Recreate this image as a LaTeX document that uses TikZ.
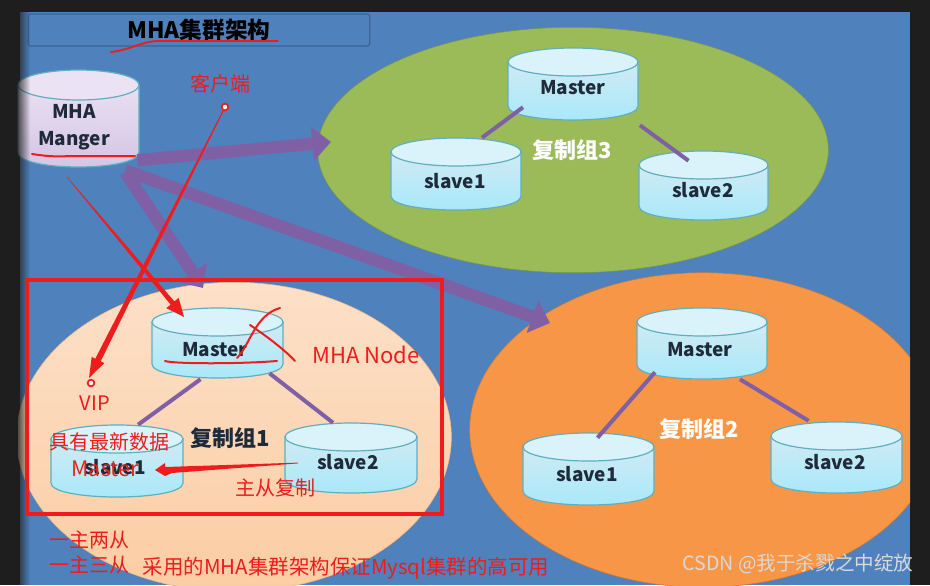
\documentclass[tikz,border=0pt]{standalone}
\usepackage{fontspec}
\setmainfont{Noto Sans CJK SC}
\usetikzlibrary{shapes.geometric,arrows.meta,fadings}
\definecolor{bgblue}{HTML}{4F81BD}
\definecolor{framec}{HTML}{1E1E1E}
\definecolor{titleedge}{HTML}{3A6593}
\definecolor{grn}{HTML}{9BBB59}
\definecolor{org}{HTML}{F79646}
\definecolor{peachhi}{HTML}{FDE0C8}
\definecolor{peachlo}{HTML}{FBCDA3}
\definecolor{purp}{HTML}{7F60A4}
\definecolor{redmk}{HTML}{EE1C1C}
\definecolor{cyltop}{HTML}{DAF3FA}
\definecolor{cylhi}{HTML}{CFEBF4}
\definecolor{cyllo}{HTML}{A6E8FA}
\definecolor{cyledge}{HTML}{5FAFC0}
\definecolor{mtop}{HTML}{EBE2F4}
\definecolor{mhi}{HTML}{EADFF2}
\definecolor{mlo}{HTML}{D3C4E4}
\definecolor{inkdark}{HTML}{1F2A3A}
\tikzset{
  groupell/.style={ellipse,inner sep=0pt},
  bigarrow/.style={purp,line width=9.2pt,-{Triangle[length=14pt,width=25pt]}},
  linkline/.style={purp,line width=3pt},
  redtxt/.style={text=redmk,inner sep=0pt,font=\fontsize{15}{18}\selectfont},
  cyltxt/.style={text=inkdark,font=\fontsize{14.2}{20}\selectfont\bfseries,align=center},
  grptxt/.style={inner sep=0pt,font=\fontsize{16.5}{18}\selectfont\bfseries},
  penline/.style={draw=redmk,line cap=round,line join=round,line width=1.5pt},
}
\newcommand{\cylbox}[9]{%
  \pgfmathsetmacro{\cxx}{(#2+#4)/2}
  \pgfmathsetmacro{\cyy}{(#3+#5)/2}
  \pgfmathsetmacro{\wid}{#4-#2}
  \pgfmathsetmacro{\hei}{#5-#3}
  \pgfmathsetmacro{\ya}{#3+#6}
  \pgfmathsetmacro{\yb}{#5-#6}
  \pgfmathsetmacro{\yc}{#5+#6/3}
  \pgfmathsetmacro{\rx}{(#4-#2)/2}
  \path[shade,top color=#8,bottom color=#9,draw=cyledge,line width=.9pt]
    (#2,\ya) -- (#2,\yb) .. controls (#2,\yc) and (#4,\yc) .. (#4,\yb) -- (#4,\ya) -- cycle;
  \filldraw[draw=cyledge,fill=#7,line width=.9pt] (\cxx,\ya) ellipse [x radius=\rx,y radius=#6];
  \node[inner sep=0pt,minimum width=\wid*0.75pt,minimum height=\hei*0.75pt] (#1) at (\cxx,\cyy) {};
}
\begin{document}
\begin{tikzpicture}[x=0.75pt,y=-0.75pt]
\useasboundingbox (0,0) rectangle (930,585);
\fill[framec] (0,0) rectangle (930,585);
\fill[bgblue] (20,12) rectangle (910,585);
\begin{scope}
\clip (18,12) rectangle (910,585);
\node[groupell,fill=grn,draw=grn!80!black,minimum width=383pt,minimum height=184pt] (g3) at (573,150) {};
\node[groupell,fill=org,draw=org!80!black,minimum width=350pt,minimum height=236pt] (g2) at (703,430) {};
\node[groupell,top color=peachhi,bottom color=peachlo,draw=org!70!white,minimum width=326pt,minimum height=232pt] (g1) at (234,437) {};
\end{scope}
\node[draw=titleedge,line width=.9pt,rounded corners=1.5pt,inner sep=0pt,minimum width=256pt,minimum height=24pt] (title) at (199,30) {};
\node[inner sep=0pt,font=\fontsize{17}{18}\selectfont\bfseries,text=black] (titletxt) at (199,30) {MHA集群架构};
\draw[penline,line width=1.4pt] (111,52) .. controls (130,50) and (140,42) .. (157,41) -- (278,41);
\cylbox{mha}{18}{70}{139}{167}{15}{mtop}{mhi}{mlo}
\node[cyltxt] (mhatxt) at (74,127) {MHA\\Manger};
\cylbox{m3}{508}{48}{638}{120}{14}{cyltop}{cylhi}{cyllo}
\node[cyltxt] (m3t) at (573,88) {Master};
\cylbox{s31}{391}{138}{521}{210}{14}{cyltop}{cylhi}{cyllo}
\node[cyltxt] (s31t) at (455,181) {slave1};
\cylbox{s32}{639}{151}{768}{220}{14}{cyltop}{cylhi}{cyllo}
\node[cyltxt] (s32t) at (703,190) {slave2};
\cylbox{m1}{152}{308}{283}{378}{14}{cyltop}{cylhi}{cyllo}
\node[cyltxt] (m1t) at (215,350) {Master};
\cylbox{s11}{51}{425}{183}{497}{14}{cyltop}{cylhi}{cyllo}
\node[cyltxt] (s11t) at (115,467) {slave1};
\cylbox{s12}{285}{423}{417}{493}{14}{cyltop}{cylhi}{cyllo}
\node[cyltxt] (s12t) at (348,462) {slave2};
\cylbox{m2}{637}{308}{767}{379}{14}{cyltop}{cylhi}{cyllo}
\node[cyltxt] (m2t) at (700,350) {Master};
\cylbox{s21}{523}{433}{654}{505}{14}{cyltop}{cylhi}{cyllo}
\node[cyltxt] (s21t) at (587,474) {slave1};
\cylbox{s22}{771}{422}{902}{493}{14}{cyltop}{cylhi}{cyllo}
\node[cyltxt] (s22t) at (835,462) {slave2};
\fill[framec,path fading=east] (14,12) rectangle (30,585);
\fill[framec] (0,0) rectangle (16,585);
\draw[linkline] ([shift={(-50,-13)}]m3.south) -- ([shift={(26,0)}]s31.north);
\draw[linkline] ([shift={(67,5)}]m3.south) -- ([shift={(-15,10)}]s32.north);
\draw[linkline] ([shift={(-17,1)}]m1.south) -- ([shift={(21,0)}]s11.north);
\draw[linkline] ([shift={(52,-5)}]m1.south) -- ([shift={(-18,0)}]s12.north);
\draw[linkline] ([shift={(-47,-7)}]m2.south) -- ([shift={(9,5)}]s21.north);
\draw[linkline] ([shift={(38,0)}]m2.south) -- ([shift={(-28,-1)}]s22.north);
\coordinate (tipa) at (331,142);
\coordinate (tipb) at (203,288);
\coordinate (tipc) at (550,323);
\draw[bigarrow] ([shift={(-2,-7)}]mha.south east) -- (tipa);
\draw[bigarrow] ([shift={(-14,5)}]mha.south east) -- (tipb);
\draw[bigarrow] ([shift={(-14,3)}]mha.south east) -- (tipc);
\node[grptxt,text=inkdark] (l1) at (230,438) {复制组1};
\node[grptxt,text=white] (l2) at (699,429) {复制组2};
\node[grptxt,text=white] (l3) at (572,150) {复制组3};
\draw[redmk,line width=2.3pt] (27,280) rectangle (442,514);
\fill[redmk] (67,176.7) -- (174.4,301.4) -- (178.7,297.9) -- (184,317) -- (166.3,308.1) -- (170.6,304.6) -- (67,177.3) -- cycle;
\fill[redmk] (225.4,107.2) -- (100.7,361.3) -- (104.3,363.1) -- (89,378) -- (91.7,356.9) -- (95.3,358.7) -- (224.6,106.8) -- cycle;
\fill[redmk] (298,462.6) -- (165,467) -- (165,463) -- (155,470) -- (165,476) -- (172,473) -- (298,463.4) -- cycle;
\node[circle,fill=white,draw=redmk,line width=1.3pt,minimum size=5pt,inner sep=0pt] (client) at (225,107) {};
\node[circle,fill=white,draw=redmk,line width=1.3pt,minimum size=5pt,inner sep=0pt] (vip) at (91,383) {};
\draw[penline] (32,154) .. controls (45,156) and (55,157) .. (70,156) -- (135,156);
\draw[penline] (165,361) .. controls (175,364) and (240,364) .. (277,361);
\draw[penline] (237,358) .. controls (250,345) and (255,315) .. (280,308);
\draw[penline] (250,325) .. controls (265,335) and (285,350) .. (295,361);
\node[redtxt] (t1) at (220,84) {客户端};
\node[redtxt,font=\fontsize{16.5}{18}\selectfont] (t2) at (366,355) {MHA Node};
\node[redtxt] (t3) at (95,403) {VIP};
\node[redtxt] (t4) at (109,442) {具有最新数据};
\node[redtxt,font=\fontsize{16}{18}\selectfont] (t5) at (105,469) {Master};
\node[redtxt] (t6) at (275,488) {主从复制};
\node[redtxt] (t7) at (89,540) {一主两从};
\node[redtxt] (t8) at (89,565) {一主三从};
\node[redtxt,font=\fontsize{15.35}{18}\selectfont] (t9) at (346,568) {采用的MHA集群架构保证Mysql集群的高可用};
\node[inner sep=0pt,text=white!85!black,font=\fontsize{14.7}{16}\selectfont] (wm) at (798,564) {CSDN @我于杀戮之中绽放};
\end{tikzpicture}
\end{document}
